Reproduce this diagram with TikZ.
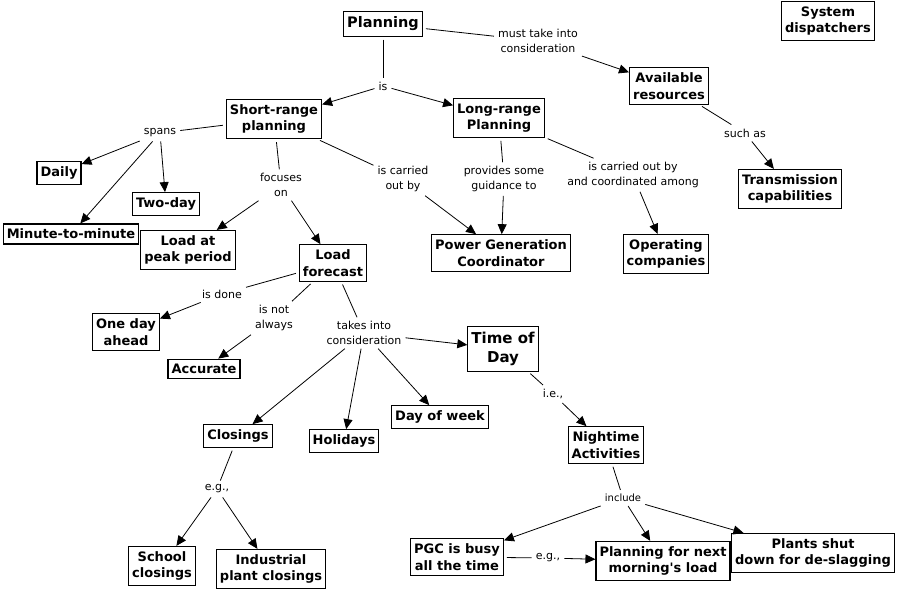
\documentclass[tikz,border=0pt]{standalone}
\usepackage{fontspec}
\setmainfont{DejaVu Sans}
\usetikzlibrary{arrows.meta}
\tikzset{
  box/.style={draw,line width=1.1pt,align=center,inner xsep=3.5pt,inner ysep=5pt,
    font=\fontsize{13}{16.5}\selectfont\bfseries},
  bigbox/.style={box,font=\fontsize{15}{19.5}\selectfont\bfseries},
  word/.style={align=center,inner sep=4pt,font=\fontsize{11}{14.5}\selectfont},
  tie/.style={line width=0.8pt,shorten <=3pt},
  lead/.style={line width=0.8pt,-{Triangle[length=10pt,width=9pt]}},
}
\begin{document}
\begin{tikzpicture}[x=1pt,y=-1pt]
 \useasboundingbox (0,0) rectangle (898,592);
 % concepts
 \node[box,font=\fontsize{14.5}{17}\selectfont\bfseries] (planning) at (383,24) {Planning};
 \node[box] (sysdisp) at (828,21) {System\\dispatchers};
 \node[box] (avail) at (669,86) {Available\\resources};
 \node[box] (trans) at (790,189) {Transmission\\capabilities};
 \node[box] (short) at (274,119) {Short-range\\planning};
 \node[box] (long) at (499,118) {Long-range\\Planning};
 \node[box] (daily) at (59,173) {Daily};
 \node[box] (twoday) at (166,204) {Two-day};
 \node[box] (minute) at (71,234) {Minute-to-minute};
 \node[box] (peak) at (188,250) {Load at\\peak period};
 \node[box] (forecast) at (333,263) {Load\\forecast};
 \node[box] (pgc) at (501,253) {Power Generation\\Coordinator};
 \node[box] (opcomp) at (666,254) {Operating\\companies};
 \node[box] (oneday) at (126,332) {One day\\ahead};
 \node[box] (accurate) at (204,369) {Accurate};
 \node[box] (closings) at (238,436) {Closings};
 \node[box] (holidays) at (344,441) {Holidays};
 \node[box] (dayweek) at (440,417) {Day of week};
 \node[bigbox] (timeday) at (503,349) {Time of\\Day};
 \node[box] (school) at (162,566) {School\\closings};
 \node[box] (industrial) at (271,569) {Industrial\\plant closings};
 \node[box] (night) at (606,445) {Nightime\\Activities};
 \node[box] (busy) at (457,557) {PGC is busy\\all the time};
 \node[box] (morning) at (663,561) {Planning for next\\morning\textquotesingle s load};
 \node[box] (deslag) at (813,553) {Plants shut\\down for de-slagging};
 % linking words
 \node[word] (is) at (383,86) {is};
 \node[word] (musttake) at (538,41) {must take into\\consideration};
 \node[word] (suchas) at (745,133) {such as};
 \node[word] (spans) at (160,133) {spans};
 \node[word] (focuses) at (281,185) {focuses\\on};
 \node[word] (carried) at (403,179) {is carried\\out by};
 \node[word] (guidance) at (504,179) {provides some\\guidance to};
 \node[word] (coord) at (633,175) {is carried out by\\and coordinated among};
 \node[word] (isdone) at (222,294) {is done};
 \node[word] (notalways) at (274,318) {is not\\always};
 \node[word] (takes) at (364,333) {takes into\\consideration};
 \node[word] (egclose) at (217,489) {e.g.,};
 \node[word] (ie) at (553,394) {i.e.,};
 \node[word,font=\fontsize{10}{12}\selectfont] (include) at (623,498) {include};
 \node[word] (egbusy) at (548,558) {e.g.,};
 % connectors
 \draw[tie] (planning) -- (is);
 \draw[lead] (is) -- (short);
 \draw[lead] (is) -- (long);
 \draw[tie] (planning) -- (musttake);
 \draw[lead] (musttake) -- (avail);
 \draw[tie] (avail) -- (suchas);
 \draw[lead] (suchas) -- (trans);
 \draw[tie] (short) -- (spans);
 \draw[lead] (spans) -- (daily);
 \draw[lead] (spans) -- (twoday);
 \draw[lead] (spans) -- (minute);
 \draw[tie] (short) -- (focuses);
 \draw[lead] (focuses) -- (peak);
 \draw[lead] (focuses) -- (forecast);
 \draw[tie] (short) -- (carried);
 \draw[lead] (carried) -- (pgc);
 \draw[tie] (long) -- (guidance);
 \draw[lead] (guidance) -- (pgc);
 \draw[tie] (long) -- (coord);
 \draw[lead] (coord) -- (opcomp);
 \draw[tie] (forecast) -- (isdone);
 \draw[lead] (isdone) -- (oneday);
 \draw[tie] (forecast) -- (notalways);
 \draw[lead] (notalways) -- (accurate);
 \draw[tie] (forecast) -- (takes);
 \draw[lead] (takes) -- (timeday);
 \draw[lead] (takes) -- (closings);
 \draw[lead] (takes) -- (holidays);
 \draw[lead] (takes) -- (dayweek);
 \draw[tie] (closings) -- (egclose);
 \draw[lead] (egclose) -- (school);
 \draw[lead] (egclose) -- (industrial);
 \draw[tie] (timeday) -- (ie);
 \draw[lead] (ie) -- (night);
 \draw[tie] (night) -- (include);
 \draw[lead] (include) -- (busy);
 \draw[lead] (include) -- (morning);
 \draw[lead] (include) -- (deslag);
 \draw[tie] (busy) -- (egbusy);
 \draw[lead] (egbusy) -- (morning);
\end{tikzpicture}
\end{document}
